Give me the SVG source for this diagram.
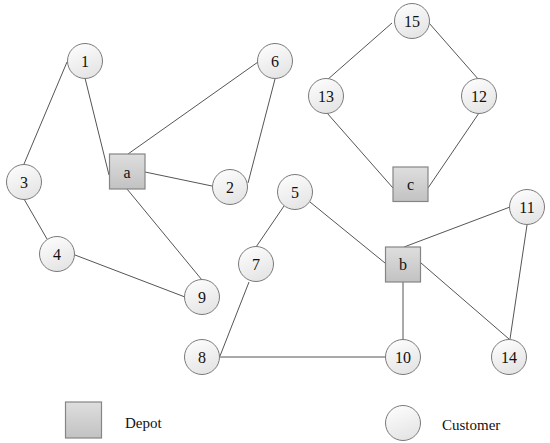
<svg xmlns="http://www.w3.org/2000/svg" width="550" height="443" viewBox="0 0 550 443">
<defs>
<linearGradient id="gc" x1="0" y1="0" x2="0.4" y2="1"><stop offset="0" stop-color="#ffffff"/><stop offset="1" stop-color="#e6e6e6"/></linearGradient>
<linearGradient id="gs" x1="0" y1="0" x2="0" y2="1"><stop offset="0" stop-color="#dedede"/><stop offset="1" stop-color="#c2c2c2"/></linearGradient>
<style>
.c{fill:url(#gc);stroke:#7a7a7a;stroke-width:1}
.s{fill:url(#gs);stroke:#858585;stroke-width:1.2}
.e line{stroke:#555;stroke-width:1}
text{font-family:"Liberation Serif","Times New Roman",serif;font-size:16px;fill:#111;text-anchor:middle;dominant-baseline:central}
.l{text-anchor:start;font-size:15px}
</style>
</defs>
<rect width="550" height="443" fill="#fff"/>
<g id="connectors" class="e">
<line x1="67" y1="62" x2="24" y2="164"/>
<line x1="85" y1="78" x2="109" y2="175"/>
<line x1="128" y1="154" x2="258" y2="62"/>
<line x1="145" y1="172" x2="212" y2="186"/>
<line x1="275" y1="79" x2="248" y2="183"/>
<line x1="24" y1="199" x2="47" y2="239"/>
<line x1="127" y1="189" x2="202" y2="280"/>
<line x1="75" y1="255" x2="185" y2="297"/>
<line x1="284" y1="206" x2="256" y2="247"/>
<line x1="249" y1="282" x2="220" y2="356"/>
<line x1="219" y1="357" x2="386" y2="357"/>
<line x1="310" y1="202" x2="385" y2="263"/>
<line x1="404" y1="247" x2="510" y2="207"/>
<line x1="403" y1="282" x2="403" y2="340"/>
<line x1="421" y1="263" x2="509" y2="339"/>
<line x1="527" y1="225" x2="510" y2="339"/>
<line x1="392" y1="23" x2="327" y2="80"/>
<line x1="429" y1="23" x2="479" y2="80"/>
<line x1="327" y1="113" x2="393" y2="188"/>
<line x1="479" y1="113" x2="428" y2="188"/>
</g>
<g id="n1"><circle class="c" cx="85" cy="61" r="17.5"/><text x="85" y="61">1</text></g>
<g id="n6"><circle class="c" cx="275" cy="61" r="17.5"/><text x="275" y="61">6</text></g>
<g id="n15"><circle class="c" cx="412" cy="21" r="17.5"/><text x="412" y="21">15</text></g>
<g id="n13"><circle class="c" cx="326" cy="96" r="17.5"/><text x="326" y="96">13</text></g>
<g id="n12"><circle class="c" cx="479" cy="96" r="17.5"/><text x="479" y="96">12</text></g>
<g id="n3"><circle class="c" cx="24" cy="182" r="17.5"/><text x="24" y="182">3</text></g>
<g id="na"><rect class="s" x="109.5" y="154" width="35.5" height="35"/><text x="127" y="172">a</text></g>
<g id="n2"><circle class="c" cx="230" cy="187" r="17.5"/><text x="230" y="187">2</text></g>
<g id="nc"><rect class="s" x="393" y="167" width="35" height="34.5"/><text x="410.5" y="184">c</text></g>
<g id="n5"><circle class="c" cx="295" cy="192" r="17.5"/><text x="295" y="192">5</text></g>
<g id="n11"><circle class="c" cx="527" cy="207" r="17.5"/><text x="527" y="207">11</text></g>
<g id="n7"><circle class="c" cx="256" cy="264" r="17.5"/><text x="256" y="264">7</text></g>
<g id="nb"><rect class="s" x="385.5" y="247" width="35" height="35"/><text x="403" y="264">b</text></g>
<g id="n4"><circle class="c" cx="57" cy="254" r="17.5"/><text x="57" y="254">4</text></g>
<g id="n9"><circle class="c" cx="202" cy="297" r="17.5"/><text x="202" y="297">9</text></g>
<g id="n8"><circle class="c" cx="202" cy="357" r="17.5"/><text x="202" y="357">8</text></g>
<g id="n10"><circle class="c" cx="403" cy="357" r="17.5"/><text x="403" y="357">10</text></g>
<g id="n14"><circle class="c" cx="509" cy="357" r="17.5"/><text x="509" y="357">14</text></g>
<g id="legend-depot"><rect class="s" x="65.5" y="402" width="36" height="36"/><text class="l" x="125" y="423">Depot</text></g>
<g id="legend-customer"><circle class="c" cx="403" cy="423" r="17.5"/><text class="l" x="442" y="425">Customer</text></g>
</svg>
